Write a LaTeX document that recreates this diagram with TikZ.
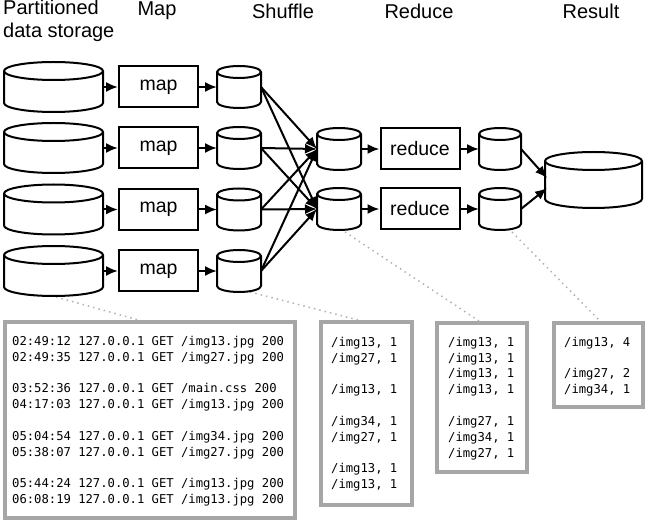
\documentclass[tikz,border=0pt]{standalone}
\usepackage{fontspec}
\setmainfont{Liberation Sans}
\newfontfamily\logfont{DejaVu Sans Mono}
\usetikzlibrary{arrows.meta}
\tikzset{
  cylst/.style={line width=2pt,fill=white,line join=round},
  box/.style={draw,line width=2pt,fill=white,inner sep=0,minimum width=79pt,minimum height=41pt,font=\fontsize{19.5}{22}\selectfont},
  arr/.style={line width=2pt,-{Latex[length=12pt,width=10pt]}},
  dot/.style={draw=black!30,line width=1.5pt,dash pattern=on 1.5pt off 4pt},
  logbox/.style={draw=black!35,line width=3.8pt,fill=white},
  hdr/.style={font=\fontsize{20}{23}\selectfont,inner sep=0,align=left},
  lg/.style={font=\logfont\fontsize{12.2}{14}\selectfont,anchor=base west,inner sep=0}
}
\newcommand\cyl[6]{%
  \pgfmathsetmacro\cw{(#4-#2)/2}%
  \node[inner sep=0,outer sep=0,minimum width={(#4-#2)*1pt},minimum height={(#5-#3)*1pt}] (#1) at ({(#2+#4)/2},{(#3+#5)/2}) {};
  \draw[cylst] (#2,#3+#6) -- (#2,#5-#6) arc[start angle=180,end angle=360,x radius=\cw pt,y radius=#6 pt] -- (#4,#3+#6) arc[start angle=0,end angle=180,x radius=\cw pt,y radius=#6 pt] -- cycle;
  \draw[cylst,fill=none] (#2,#3+#6) arc[start angle=180,end angle=360,x radius=\cw pt,y radius=#6 pt];
}
\begin{document}
\begin{tikzpicture}[x=1pt,y=-1pt]
\useasboundingbox (0,0) rectangle (650,526);
% headers
\node[hdr,anchor=north west] (h1) at (3,0) {Partitioned\\data storage};
\node[hdr] (h2) at (157,11) {Map};
\node[hdr] (h3) at (283,11) {Shuffle};
\node[hdr] (h4) at (419,11) {Reduce};
\node[hdr] (h5) at (591,11) {Result};
% dotted
\draw[dot] (56,297) -- (142,321);
\draw[dot] (250,292) -- (362,321);
\draw[dot] (345,232) -- (479,321);
\draw[dot] (512,232) -- (600,321);
% rows
\foreach \i/\c in {1/87,2/148,3/209.5,4/271}{
  \cyl{d\i}{4}{\c-25}{103}{\c+25}{9}
  \node[box] (m\i) at (158.5,\c) {map};
  \cyl{s\i}{217}{\c-21}{261}{\c+21}{6}
  \draw[arr] (d\i.east) -- (m\i.west);
  \draw[arr] (m\i.east) -- (s\i.west);
}
\cyl{r1}{317}{128}{361}{170}{6}
\cyl{r2}{317}{188}{361}{230}{6}
\node[box] (rd1) at (420,149) {reduce};
\node[box] (rd2) at (420,209) {reduce};
\cyl{o1}{479}{128}{521}{170}{6}
\cyl{o2}{479}{188}{521}{230}{6}
\cyl{res}{545}{152}{642}{208}{9}
\foreach \i in {1,2,3,4}{
  \draw[arr] (s\i.east) -- (r1.west);
  \draw[arr] (s\i.east) -- (r2.west);
}
\foreach \i in {1,2}{
  \draw[arr] (r\i.east) -- (rd\i.west);
  \draw[arr] (rd\i.east) -- (o\i.west);
}
\coordinate (ra) at (547,178);
\coordinate (rb) at (547,188);
\draw[arr] (o1.east) -- (ra);
\draw[arr] (o2.east) -- (rb);
% log boxes
\draw[logbox] (5,322) rectangle (295,518);
\draw[logbox] (321,322) rectangle (412,505);
\draw[logbox] (437,323) rectangle (527,472);
\draw[logbox] (554,323) rectangle (643,407);
\node[lg] (a1) at (12,345) {02:49:12 127.0.0.1 GET /img13.jpg 200};
\node[lg] (a2) at (12,361) {02:49:35 127.0.0.1 GET /img27.jpg 200};
\node[lg] (a3) at (12,392) {03:52:36 127.0.0.1 GET /main.css 200};
\node[lg] (a4) at (12,408) {04:17:03 127.0.0.1 GET /img13.jpg 200};
\node[lg] (a5) at (12,440) {05:04:54 127.0.0.1 GET /img34.jpg 200};
\node[lg] (a6) at (12,456) {05:38:07 127.0.0.1 GET /img27.jpg 200};
\node[lg] (a7) at (12,487) {05:44:24 127.0.0.1 GET /img13.jpg 200};
\node[lg] (a8) at (12,503) {06:08:19 127.0.0.1 GET /img13.jpg 200};
\node[lg] (b1) at (331,346) {/img13, 1};
\node[lg] (b2) at (331,362) {/img27, 1};
\node[lg] (b3) at (331,393) {/img13, 1};
\node[lg] (b4) at (331,425) {/img34, 1};
\node[lg] (b5) at (331,441) {/img27, 1};
\node[lg] (b6) at (331,472) {/img13, 1};
\node[lg] (b7) at (331,488) {/img13, 1};
\node[lg] (c1) at (448,346) {/img13, 1};
\node[lg] (c2) at (448,362) {/img13, 1};
\node[lg] (c3) at (448,377) {/img13, 1};
\node[lg] (c4) at (448,393) {/img13, 1};
\node[lg] (c5) at (448,425) {/img27, 1};
\node[lg] (c6) at (448,441) {/img34, 1};
\node[lg] (c7) at (448,457) {/img27, 1};
\node[lg] (e1) at (564,346) {/img13, 4};
\node[lg] (e2) at (564,377) {/img27, 2};
\node[lg] (e3) at (564,393) {/img34, 1};
\end{tikzpicture}
\end{document}
